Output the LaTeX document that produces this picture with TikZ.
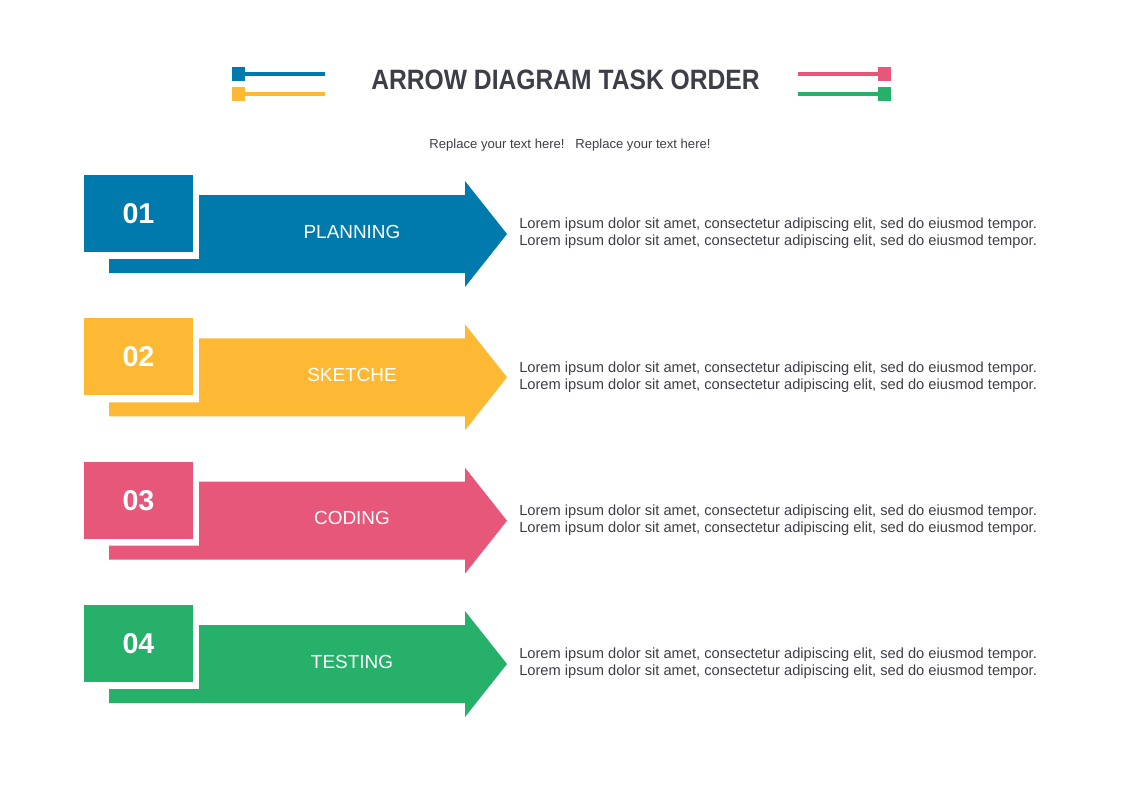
\documentclass[tikz,border=0pt]{standalone}
\definecolor{TextColor}{RGB}{62,62,72}
\definecolor{PlanColor}{RGB}{0,122,172}
\definecolor{SketchColor}{RGB}{253,185,51}
\definecolor{CodeColor}{RGB}{230,87,122}
\definecolor{TestColor}{RGB}{38,176,106}
\usepackage{fontspec}
\setmainfont{Liberation Sans}
\usepackage{tikz}
\usetikzlibrary{positioning}
\tikzstyle{numbox} = [minimum width=81.75pt, minimum height=57.75pt, inner sep=0pt, text=white, font=\fontsize{21.5}{21.5}\selectfont\bfseries]
\tikzstyle{steplabel} = [text=white, font=\fontsize{14.2}{14.2}\selectfont]
\tikzstyle{desc} = [anchor=west, align=left, inner sep=0pt, text=TextColor, font=\fontsize{11}{12.75}\selectfont]
\tikzstyle{legendline} = [line width=3pt]

\begin{document}
\begin{tikzpicture}[x=0.75pt, y=-0.75pt]
                \useasboundingbox (0,0) rectangle (1123,794);
                
                % Title
                \node[text=TextColor, font=\fontsize{21}{21}\selectfont\bfseries] (title) at (565.5,80) {\scalebox{0.88}[1]{ARROW DIAGRAM TASK ORDER}};
                \node[text=TextColor, font=\fontsize{9.8}{9.8}\selectfont] (sub) at (570,145) {Replace your text here!\ \ \ Replace your text here!};
                
                % Legend marks
                \fill[PlanColor] (232,67) rectangle (245,81);
                \draw[legendline, PlanColor] (245,74) -- (325,74);
                \fill[SketchColor] (232,87) rectangle (245,101);
                \draw[legendline, SketchColor] (245,94) -- (325,94);
                \fill[CodeColor] (878,67) rectangle (891,81);
                \draw[legendline, CodeColor] (798,74) -- (878,74);
                \fill[TestColor] (878,87) rectangle (891,101);
                \draw[legendline, TestColor] (798,94) -- (878,94);
                
                % Planning
                \node[numbox, fill=PlanColor] (num1) at (138.5,213.5) {01};
                \fill[PlanColor] (109,273) -- (109,259) -- (199,259) -- (199,195) -- (465,195) -- (465,181) -- (507,234) -- (465,287) -- (465,273) -- cycle;
                \coordinate (tip1) at (507,234);
                \node[steplabel] (lab1) at (352,231.5) {PLANNING};
                \node[desc, right=9pt of tip1, yshift=0.4pt] (desc1) {Lorem ipsum dolor sit amet, consectetur adipiscing elit, sed do eiusmod tempor.\\Lorem ipsum dolor sit amet, consectetur adipiscing elit, sed do eiusmod tempor.};
                
                % Sketche
                \node[numbox, fill=SketchColor] (num2) at (138.5,356.8) {02};
                \fill[SketchColor] (109,416.3) -- (109,402.3) -- (199,402.3) -- (199,338.3) -- (465,338.3) -- (465,324.3) -- (507,377.3) -- (465,430.3) -- (465,416.3) -- cycle;
                \coordinate (tip2) at (507,377.3);
                \node[steplabel] (lab2) at (352,374.8) {SKETCHE};
                \node[desc, right=9pt of tip2, yshift=0.4pt] (desc2) {Lorem ipsum dolor sit amet, consectetur adipiscing elit, sed do eiusmod tempor.\\Lorem ipsum dolor sit amet, consectetur adipiscing elit, sed do eiusmod tempor.};
                
                % Coding
                \node[numbox, fill=CodeColor] (num3) at (138.5,500.2) {03};
                \fill[CodeColor] (109,559.7) -- (109,545.7) -- (199,545.7) -- (199,481.7) -- (465,481.7) -- (465,467.7) -- (507,520.7) -- (465,573.7) -- (465,559.7) -- cycle;
                \coordinate (tip3) at (507,520.7);
                \node[steplabel] (lab3) at (352,518.2) {CODING};
                \node[desc, right=9pt of tip3, yshift=0.4pt] (desc3) {Lorem ipsum dolor sit amet, consectetur adipiscing elit, sed do eiusmod tempor.\\Lorem ipsum dolor sit amet, consectetur adipiscing elit, sed do eiusmod tempor.};
                
                % Testing
                \node[numbox, fill=TestColor] (num4) at (138.5,643.5) {04};
                \fill[TestColor] (109,703) -- (109,689) -- (199,689) -- (199,625) -- (465,625) -- (465,611) -- (507,664) -- (465,717) -- (465,703) -- cycle;
                \coordinate (tip4) at (507,664);
                \node[steplabel] (lab4) at (352,661.5) {TESTING};
                \node[desc, right=9pt of tip4, yshift=0.4pt] (desc4) {Lorem ipsum dolor sit amet, consectetur adipiscing elit, sed do eiusmod tempor.\\Lorem ipsum dolor sit amet, consectetur adipiscing elit, sed do eiusmod tempor.};
            \end{tikzpicture}
\end{document}
